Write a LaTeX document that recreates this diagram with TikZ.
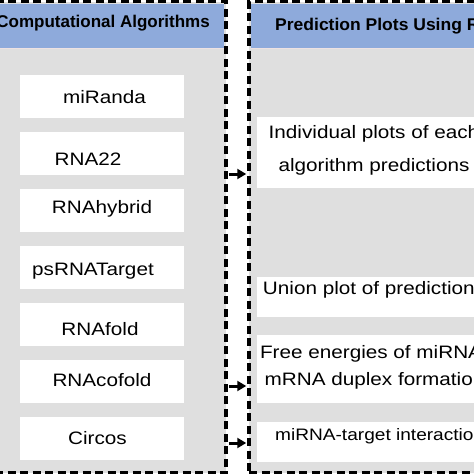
\documentclass[tikz,border=0pt]{standalone}
\usepackage{fontspec}
\setmainfont{Liberation Sans}
\newfontfamily\boxfont[FakeStretch=1.15]{Liberation Sans}
\usetikzlibrary{arrows.meta}
\definecolor{hdrblue}{RGB}{142,170,219}
\definecolor{hdrline}{RGB}{238,226,226}
\definecolor{panelgray}{RGB}{223,223,223}
\begin{document}
\begin{tikzpicture}[x=1pt, y=-1pt,
    panel/.style={draw=black, fill=panelgray, line width=3.5pt, dash pattern=on 8pt off 4.5pt, inner sep=0pt},
    header/.style={fill=hdrblue, minimum height=44pt, inner sep=0pt},
    hdrtxt/.style={font=\bfseries\fontsize{17}{20}\selectfont, inner sep=0pt},
    algbox/.style={fill=white, minimum width=164pt, minimum height=43pt, inner sep=0pt},
    plotbox/.style={fill=white, minimum width=263pt, inner sep=0pt},
    boxtxt/.style={font=\boxfont\fontsize{18}{22}\selectfont, anchor=base, inner sep=0pt},
    flow/.style={line width=3pt, -{Triangle[length=9pt, width=10pt]}, shorten <=1pt, shorten >=1pt}]
    \useasboundingbox (0, 0) rectangle (474, 474);
    \clip (0, 0) rectangle (474, 474);

    \node[panel, minimum width=256pt, minimum height=471.5pt] (lpanel) at (98, 237.25) {};
    \node[panel, minimum width=271pt, minimum height=471.5pt] (rpanel) at (384.5, 237.25) {};

    \node[header, minimum width=254pt] (lhead) at (97, 26) {};
    \node[header, minimum width=269pt] (rhead) at (385.5, 26) {};
    \draw[hdrline, line width=1pt] (lhead.south west) -- (lhead.south east);
    \draw[hdrline, line width=1pt] (rhead.south west) -- (rhead.south east);
    \node[hdrtxt, anchor=base east] (ltitle) at (210, 27.5) {Computational Algorithms};
    \node[hdrtxt, anchor=base west, xscale=1.03] (rtitle) at (275, 30.5) {Prediction Plots Using R};

    \node[algbox] (miranda) at (102, 96) {};
    \node[algbox] (rna22) at (102, 153.5) {};
    \node[algbox] (hybrid) at (102, 210) {};
    \node[algbox] (pstarget) at (102, 267.5) {};
    \node[algbox] (fold) at (102, 324.5) {};
    \node[algbox] (cofold) at (102, 381.5) {};
    \node[algbox] (circos) at (102, 438.5) {};
    \node[boxtxt] (mirandatxt) at (104.5, 103) {miRanda};
    \node[boxtxt] (rna22txt) at (88, 165) {RNA22};
    \node[boxtxt] (hybridtxt) at (102, 213) {RNAhybrid};
    \node[boxtxt] (pstargettxt) at (93, 275) {psRNATarget};
    \node[boxtxt] (foldtxt) at (100, 335) {RNAfold};
    \node[boxtxt] (cofoldtxt) at (102, 386) {RNAcofold};
    \node[boxtxt] (circostxt) at (97.5, 444) {Circos};

    \node[plotbox, minimum height=71pt] (indiv) at (388.5, 152.5) {};
    \node[plotbox, minimum height=40pt] (union) at (388.5, 297) {};
    \node[plotbox, minimum height=68pt] (energy) at (388.5, 369) {};
    \node[plotbox, minimum height=40pt] (inter) at (388.5, 442) {};
    \node[boxtxt, align=center, font=\boxfont\fontsize{18}{33}\selectfont] (indivtxt)
        at (374, 171) {Individual plots of each\\algorithm predictions};
    \node[boxtxt] (uniontxt) at (374, 294) {Union plot of predictions};
    \node[boxtxt, align=center, font=\boxfont\fontsize{18}{27}\selectfont] (energytxt)
        at (374.5, 385) {Free energies of miRNA-\\mRNA duplex formation};
    \node[boxtxt, anchor=base west, font=\boxfont\fontsize{16.6}{20}\selectfont] (intertxt)
        at (275, 440) {miRNA-target interactions};

    \draw[flow] (lpanel.east |- 0, 174) -- (rpanel.west |- 0, 174);
    \draw[flow] (lpanel.east |- 0, 386) -- (rpanel.west |- 0, 386);
    \draw[flow] (lpanel.east |- 0, 443) -- (rpanel.west |- 0, 443);
\end{tikzpicture}
\end{document}
